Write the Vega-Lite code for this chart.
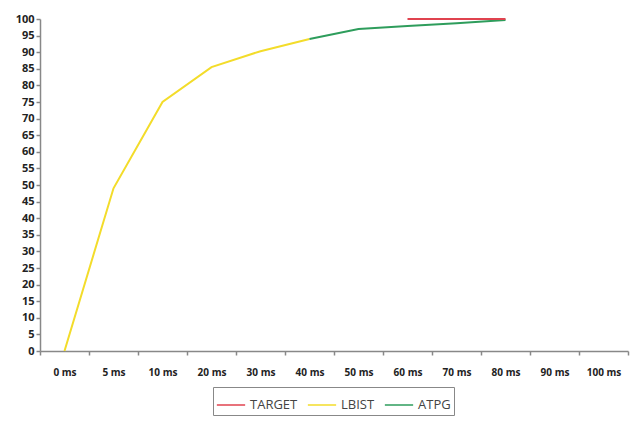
{
  "$schema": "https://vega.github.io/schema/vega-lite/v6.json",
  "width": 588,
  "height": 332,
  "autosize": "none",
  "padding": {"left": 40, "top": 19, "right": 12, "bottom": 76},
  "background": "white",
  "data": {
    "values": [
      {"time": "0 ms", "series": "LBIST", "coverage": 0},
      {"time": "5 ms", "series": "LBIST", "coverage": 49},
      {"time": "10 ms", "series": "LBIST", "coverage": 75},
      {"time": "20 ms", "series": "LBIST", "coverage": 85.5},
      {"time": "30 ms", "series": "LBIST", "coverage": 90.3},
      {"time": "40 ms", "series": "LBIST", "coverage": 94},
      {"time": "40 ms", "series": "ATPG", "coverage": 94},
      {"time": "50 ms", "series": "ATPG", "coverage": 97},
      {"time": "60 ms", "series": "ATPG", "coverage": 97.9},
      {"time": "70 ms", "series": "ATPG", "coverage": 98.7},
      {"time": "80 ms", "series": "ATPG", "coverage": 99.7},
      {"time": "60 ms", "series": "TARGET", "coverage": 100},
      {"time": "70 ms", "series": "TARGET", "coverage": 100},
      {"time": "80 ms", "series": "TARGET", "coverage": 100}
    ]
  },
  "mark": {"type": "line", "strokeWidth": 2},
  "encoding": {
    "x": {
      "field": "time",
      "type": "ordinal",
      "scale": {
        "type": "band",
        "domain": ["0 ms", "5 ms", "10 ms", "20 ms", "30 ms", "40 ms", "50 ms", "60 ms", "70 ms", "80 ms", "90 ms", "100 ms"],
        "paddingInner": 0,
        "paddingOuter": 0
      },
      "axis": {
        "title": null,
        "labelAngle": 0,
        "tickBand": "extent",
        "tickSize": 4,
        "labelPadding": 12,
        "labelFont": "Open Sans",
        "labelFontSize": 10,
        "labelFontWeight": "bold",
        "labelColor": "#222",
        "domainColor": "#888",
        "domainWidth": 1.5,
        "tickColor": "#888",
        "tickWidth": 1.5
      }
    },
    "y": {
      "field": "coverage",
      "type": "quantitative",
      "scale": {"domain": [0, 100], "nice": false},
      "axis": {
        "title": null,
        "values": [0, 5, 10, 15, 20, 25, 30, 35, 40, 45, 50, 55, 60, 65, 70, 75, 80, 85, 90, 95, 100],
        "tickSize": 4,
        "labelPadding": 2,
        "labelFont": "Open Sans",
        "labelFontSize": 11,
        "labelFontWeight": "bold",
        "labelColor": "#222",
        "domainColor": "#888",
        "domainWidth": 1.5,
        "tickColor": "#888",
        "tickWidth": 1.5
      }
    },
    "color": {
      "field": "series",
      "type": "nominal",
      "scale": {
        "domain": ["TARGET", "LBIST", "ATPG"],
        "range": ["#e0434f", "#f3dc2a", "#2e9d5c"]
      },
      "legend": {
        "title": null,
        "orient": "none",
        "direction": "horizontal",
        "legendX": 173,
        "legendY": 368,
        "symbolType": "stroke",
        "symbolSize": 800,
        "symbolStrokeWidth": 1.5,
        "labelFont": "Open Sans",
        "labelFontSize": 13,
        "labelColor": "#444",
        "labelOffset": 4,
        "columnPadding": 6,
        "strokeColor": "#888",
        "padding": 3
      }
    }
  },
  "config": {
    "view": {"stroke": null},
    "axis": {"grid": false}
  }
}
